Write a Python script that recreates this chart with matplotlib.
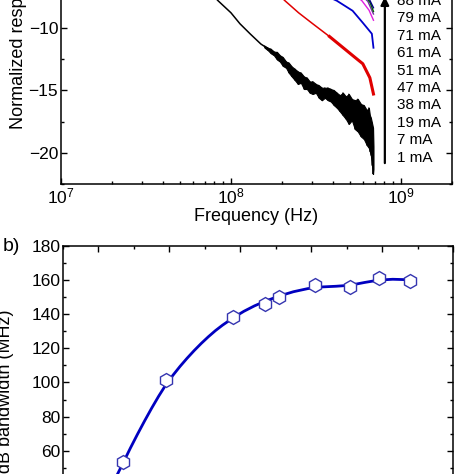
import numpy as np
import matplotlib
matplotlib.use('Agg')
import matplotlib.pyplot as plt
from matplotlib.ticker import MultipleLocator

plt.rcParams['font.family'] = ['Liberation Sans', 'DejaVu Sans']
plt.rcParams['font.size'] = 13

# ---- panel a) frequency responses (MHz, dB) ----
# 1 mA, smooth low frequency part
f_1mA = [50, 65, 84, 100, 113, 130, 150, 160]
v_1mA = [-4.5, -6.2, -7.84, -8.8, -9.68, -10.5, -11.3, -11.55]

# 1 mA, noisy part: upper / lower envelope
f_1mA_noise = [158, 165, 172, 179, 187, 194, 202, 211, 219, 228, 238, 248, 258,
               269, 280, 291, 303, 316, 329, 343, 357, 372, 387, 404, 420, 438,
               456, 475, 494, 515, 536, 558, 582, 606, 631, 648, 657, 666, 676,
               686, 690]
hi_1mA = [-11.45, -11.6, -11.7, -11.9, -11.95, -12.2, -12.35, -12.7, -12.8, -13.1,
          -13.3, -13.5, -13.6, -13.9, -14.0, -14.3, -14.3, -14.5, -14.6, -14.8,
          -14.8, -14.8, -14.9, -15.0, -15.2, -15.4, -15.2, -15.5, -15.3, -15.7,
          -15.8, -15.7, -16.1, -16.2, -16.6, -16.4, -17.0, -17.2, -17.6, -18.0,
          -19.5]
lo_1mA = [-11.6, -11.8, -12.05, -12.2, -12.55, -12.7, -13.05, -13.2, -13.6, -13.9,
          -14.2, -14.5, -14.4, -14.9, -14.9, -15.2, -15.3, -15.2, -15.6, -15.8,
          -15.6, -15.8, -15.9, -16.2, -16.4, -16.7, -17.0, -17.3, -17.7, -17.4,
          -18.1, -18.3, -18.7, -18.9, -19.4, -19.6, -19.9, -20.2, -21.0, -21.7,
          -21.3]

f_7mA = [180, 208, 250, 303, 380, 481, 540, 597, 657, 690]
v_7mA = [-7.0, -7.84, -8.8, -9.68, -10.7, -11.84, -12.4, -12.88, -14.0, -15.3]

f_19mA = [330, 420, 520, 597, 675, 690]
v_19mA = [-7.2, -7.84, -8.64, -9.6, -10.48, -11.6]

f_38mA = [450, 590, 650, 690]
v_38mA = [-6.5, -7.84, -8.6, -9.4]

f_47mA = [550, 640, 690]
v_47mA = [-7.0, -7.9, -8.9]

f_51mA = [600, 660, 690]
v_51mA = [-7.2, -8.0, -8.7]

f_61mA = [630, 690]
v_61mA = [-7.3, -8.4]

currents = ['1 mA', '7 mA', '19 mA', '38 mA', '47 mA', '51 mA', '61 mA',
            '71 mA', '79 mA', '88 mA']

# ---- panel b) bandwidth vs current ----
I_pts = [7, 19, 38, 47, 51, 61, 71, 79, 88]
bw_pts = [53.5, 101.5, 138.4, 146, 150.1, 157.2, 155.9, 161.3, 159.5]

I_fit = [1, 3, 5, 7, 9, 11, 13, 15, 17, 19, 21, 23, 25, 27, 29, 31, 33, 35,
         38, 41, 44, 47, 51, 55, 59, 63, 67, 71, 75, 79, 83, 88]
bw_fit = [25, 36, 44.7, 53, 61.5, 69.6, 77.4, 84.9, 92, 98.6, 104.2, 109.4,
          114.2, 118.7, 122.9, 126.8, 130.4, 133.6, 137.9, 141.7, 144.9, 147.6,
          150.7, 153.2, 155.0, 156.0, 156.4, 157.0, 158.6, 160.0, 160.5, 160.2]

fig = plt.figure(figsize=(4.74, 4.74), dpi=100)

ax1 = fig.add_axes([0.1287, 0.6118, 0.8249, 0.6725])
mhz = 1e6
fn = np.array(f_1mA_noise) * mhz
ax1.plot(np.array(f_1mA) * mhz, v_1mA, color='k', lw=1.1)
ax1.fill_between(fn, lo_1mA, hi_1mA, color='k', lw=0.8)
# vertical strokes between the envelopes to give the trace its noisy texture
ax1.plot(np.repeat(fn, 2), np.column_stack([hi_1mA, lo_1mA]).ravel(), color='k', lw=0.7)
ax1.plot(np.array(f_7mA[:5]) * mhz, v_7mA[:5], color='#e00000', lw=1.1)
ax1.plot(np.array(f_7mA[4:]) * mhz, v_7mA[4:], color='#e00000', lw=2.2)
ax1.plot(np.array(f_19mA) * mhz, v_19mA, color='#0000cc', lw=1.3)
ax1.plot(np.array(f_38mA) * mhz, v_38mA, color='#e020e0', lw=1.0)
ax1.plot(np.array(f_47mA) * mhz, v_47mA, color='#7030a0', lw=1.0)
ax1.plot(np.array(f_51mA) * mhz, v_51mA, color='#006000', lw=1.0)
ax1.plot(np.array(f_61mA) * mhz, v_61mA, color='#000080', lw=1.0)

ax1.set_xscale('log')
ax1.set_xlim(1e7, 2e9)
ax1.set_ylim(-22.5, 3)
ax1.yaxis.set_major_locator(MultipleLocator(5))
ax1.yaxis.set_minor_locator(MultipleLocator(2.5))
ax1.set_xlabel('Frequency (Hz)', labelpad=1)
ax1.set_ylabel('Normalized response (dB)')
ax1.yaxis.set_label_coords(-0.088, 0.5)

# arrow and current labels
ax1.annotate('', xy=(8.05e8, -7.3), xytext=(8.05e8, -21.05),
             arrowprops=dict(arrowstyle='-|>', lw=1.6, color='k', mutation_scale=12))
for i, lab in enumerate(currents):
    ax1.text(9.46e8, -20.4 + 1.395 * i, lab, fontsize=11, va='center', ha='left')

ax2 = fig.add_axes([0.1329, -0.1667, 0.8228, 0.6477])
ax2.plot(I_fit, bw_fit, color='#0000c0', lw=2.0, zorder=2)
ax2.plot(I_pts, bw_pts, ls='none', marker='h', ms=10, mfc='white',
         mec='#3535b0', mew=1.0, zorder=3)
ax2.set_xlim(-10, 100)
ax2.set_ylim(0, 180)
ax2.xaxis.set_major_locator(MultipleLocator(20))
ax2.xaxis.set_minor_locator(MultipleLocator(10))
ax2.yaxis.set_major_locator(MultipleLocator(20))
ax2.yaxis.set_minor_locator(MultipleLocator(10))
ax2.set_ylabel('-3dB bandwidth (MHz)')
ax2.yaxis.set_label_coords(-0.125, 0.5)

for ax in (ax1, ax2):
    ax.tick_params(which='both', direction='in', top=True, right=True, labelsize=12.5)
    ax.tick_params(which='major', length=4.5, width=1.0, pad=2)
    ax.tick_params(which='minor', length=2.5, width=1.0)
    for s in ax.spines.values():
        s.set_linewidth(1.1)

fig.text(0.006, 1 - 247 / 474, 'b)', fontsize=14, va='center', ha='left')

fig.savefig('out.png', dpi=100)
